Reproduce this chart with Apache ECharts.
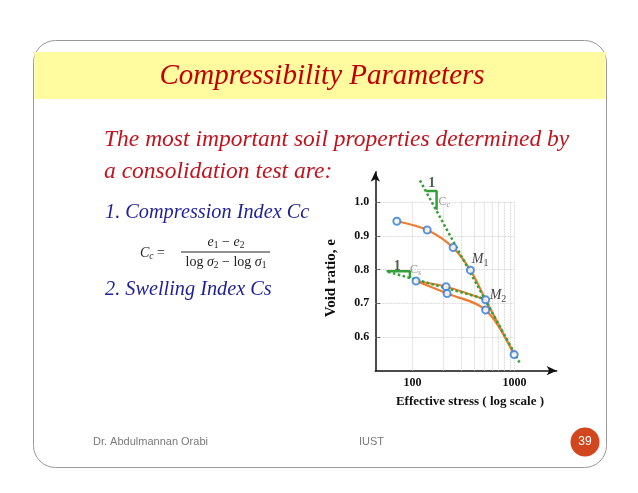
<!DOCTYPE html>
<html>
<head>
<meta charset="utf-8">
<script src="https://cdn.jsdelivr.net/npm/echarts@6/dist/echarts.min.js"></script>
<style>
  html, body { margin: 0; padding: 0; background: #ffffff; }
  #chart { width: 638px; height: 493px; }
</style>
</head>
<body>
<div id="chart"></div>
<script>
// ---------------- data ----------------
const X_MIN = 43, X_MAX = 2600;        // effective stress axis extent (log)
const Y_MIN = 0.5, Y_MAX = 1.09;       // void ratio axis extent
const xTickValues = [100, 1000];
const yTickValues = [0.6, 0.7, 0.8, 0.9, 1.0];
const gridStress = [100, 200, 300, 400, 500, 600, 700, 800, 900, 1000];
const gridVoid = [0.6, 0.7, 0.8, 0.9, 1.0];

// virgin loading curve
const loadStress = [70, 139, 250, 369, 522, 993];
const loadVoid   = [0.943, 0.917, 0.865, 0.798, 0.710, 0.548];
// unloading branch of the loop
const unloadStress = [522, 213, 108];
const unloadVoid   = [0.710, 0.749, 0.766];
// reloading branch
const reloadStress = [108, 218, 522, 993];
const reloadVoid   = [0.766, 0.729, 0.680, 0.548];
// measured points
const pointStress = [70, 139, 250, 369, 522, 522, 993, 108, 213, 218];
const pointVoid   = [0.943, 0.917, 0.865, 0.798, 0.710, 0.680, 0.548, 0.766, 0.749, 0.729];
// tangent lines
const ccLineStress = [118, 1137];
const ccLineVoid   = [1.064, 0.521];
const csLineStress = [57.5, 496];
const csLineVoid   = [0.793, 0.714];
// slope triangles
const ccTriStress = [135, 172, 172];
const ccTriVoid   = [1.033, 1.033, 0.977];
const csTriStress = [55.5, 94, 94];
const csTriVoid   = [0.795, 0.795, 0.774];
// annotations
const annoText   = ['one', 'cc', 'one', 'cs', 'm1', 'm2'];
const annoStress = [154, 205, 70.5, 107, 460, 690];
const annoVoid   = [1.055, 1.0, 0.809, 0.798, 0.830, 0.724];

// ---------------- helpers ----------------
const zip = (a, b) => a.map((v, i) => [v, b[i]]);
const gridLinesData = []
  .concat(gridStress.map(s => ({ coords: [[s, Y_MIN], [s, 1.0]] })))
  .concat(gridVoid.map(v => ({ coords: [[X_MIN, v], [1000, v]] })));

const ORANGE = '#ED7D31';
const GREEN = '#35A03A';
const BLUE = '#2F7BDB';
const SERIF = '"Liberation Serif", "DejaVu Serif", serif';

const annoFormat = {
  one: '{one|1}',
  cc: '{c|C}{cs|c}',
  cs: '{c|C}{cs|s}',
  m1: '{m|M}{ms|1}',
  m2: '{m|M}{ms|2}'
};

const mathRich = {
  i: { font: 'italic 14px ' + SERIF, fill: '#222', verticalAlign: 'middle' },
  s: { font: '9.5px ' + SERIF, fill: '#222', padding: [7, 0, 0, 0], verticalAlign: 'middle' },
  si: { font: 'italic 9.5px ' + SERIF, fill: '#222', padding: [7, 0, 0, 0], verticalAlign: 'middle' },
  o: { font: '14px ' + SERIF, fill: '#222', verticalAlign: 'middle' }
};

const chart = echarts.init(document.getElementById('chart'), null, { renderer: 'canvas' });

const option = {
  animation: false,
  backgroundColor: '#ffffff',
  graphic: [
    { type: 'rect', z: -10, shape: { x: 33.5, y: 40.5, width: 573, height: 427, r: 22 },
      style: { fill: '#ffffff', stroke: '#9a9a9a', lineWidth: 1 } },
    { type: 'rect', z: -9, shape: { x: 34.5, y: 52, width: 571, height: 47 },
      style: { fill: '#FFFB9E' } },
    { type: 'text', z: -8, style: { x: 322, y: 76, text: 'Compressibility Parameters',
      font: 'italic 29px ' + SERIF, fill: '#C00000', align: 'center', verticalAlign: 'middle' } },
    { type: 'text', z: -8, style: { x: 104, y: 140, text: 'The most important soil properties determined by',
      font: 'italic 23.5px ' + SERIF, fill: '#C0141E', align: 'left', verticalAlign: 'middle' } },
    { type: 'text', z: -8, style: { x: 104, y: 172, text: 'a consolidation test are:',
      font: 'italic 23.5px ' + SERIF, fill: '#C0141E', align: 'left', verticalAlign: 'middle' } },
    { type: 'text', z: -8, style: { x: 105, y: 213, text: '1. Compression Index Cc',
      font: 'italic 20.3px ' + SERIF, fill: '#1F1F96', align: 'left', verticalAlign: 'middle' } },
    { type: 'text', z: -8, style: { x: 105, y: 290, text: '2. Swelling Index Cs',
      font: 'italic 20.3px ' + SERIF, fill: '#1F1F96', align: 'left', verticalAlign: 'middle' } },
    // formula
    { type: 'text', z: -8, style: { x: 140, y: 253, text: '{i|C}{si|c}{o| =}',
      align: 'left', verticalAlign: 'middle', rich: mathRich } },
    { type: 'text', z: -8, style: { x: 226, y: 242, text: '{i|e}{s|1}{o| − }{i|e}{s|2}',
      align: 'center', verticalAlign: 'middle', rich: mathRich } },
    { type: 'line', z: -8, shape: { x1: 181, y1: 252, x2: 270, y2: 252 },
      style: { stroke: '#222', lineWidth: 1 } },
    { type: 'text', z: -8, style: { x: 226, y: 262, text: '{o|log }{i|σ}{s|2}{o| − log }{i|σ}{s|1}',
      align: 'center', verticalAlign: 'middle', rich: mathRich } },
    // footer
    { type: 'text', z: -8, style: { x: 93, y: 442, text: 'Dr. Abdulmannan Orabi',
      font: '11px "Liberation Sans", Arial, sans-serif', fill: '#7a7a7a', align: 'left', verticalAlign: 'middle' } },
    { type: 'text', z: -8, style: { x: 359, y: 442, text: 'IUST',
      font: '11px "Liberation Sans", Arial, sans-serif', fill: '#7a7a7a', align: 'left', verticalAlign: 'middle' } },
    { type: 'circle', z: -7, shape: { cx: 585, cy: 442, r: 14.5 }, style: { fill: '#D2461E' } },
    { type: 'text', z: -6, style: { x: 585, y: 442, text: '39',
      font: '12px "Liberation Sans", Arial, sans-serif', fill: '#ffffff', align: 'center', verticalAlign: 'middle' } }
  ],
  grid: { left: 375.3, right: 81.3, top: 171.7, bottom: 122.3, containLabel: false },
  xAxis: {
    type: 'log', logBase: 10, min: X_MIN, max: X_MAX,
    name: 'Effective stress ( log scale )',
    nameLocation: 'middle', nameGap: 24,
    nameTextStyle: { fontFamily: SERIF, fontWeight: 'bold', fontSize: 13, color: '#111', padding: [0, 0, 0, 8] },
    axisLine: { show: true, symbol: ['none', 'arrow'], symbolSize: [7, 10], lineStyle: { color: '#111', width: 1.5 } },
    axisTick: { show: false },
    splitLine: { show: false },
    minorSplitLine: { show: false },
    axisLabel: { show: true, customValues: xTickValues, margin: 6,
      fontFamily: SERIF, fontWeight: 'bold', fontSize: 12, color: '#111',
      formatter: v => String(Math.round(v)) }
  },
  yAxis: {
    type: 'value', min: Y_MIN, max: Y_MAX,
    name: 'Void ratio, e',
    nameLocation: 'middle', nameGap: 37, nameRotate: 90,
    nameTextStyle: { fontFamily: SERIF, fontWeight: 'bold', fontSize: 15, color: '#111', padding: [0, 14, 0, 0] },
    axisLine: { show: true, symbol: ['none', 'arrow'], symbolSize: [7, 10], lineStyle: { color: '#111', width: 1.5 } },
    axisTick: { show: true, inside: true, length: 5, customValues: yTickValues, lineStyle: { color: '#333' } },
    splitLine: { show: false },
    axisLabel: { show: true, customValues: yTickValues, margin: 6,
      fontFamily: SERIF, fontWeight: 'bold', fontSize: 12, color: '#111',
      formatter: v => v.toFixed(1) }
  },
  series: [
    { name: 'grid', type: 'lines', coordinateSystem: 'cartesian2d', silent: true, z: 1,
      lineStyle: { color: '#c4c4c4', width: 0.8, type: 'dotted', opacity: 1 },
      data: gridLinesData },
    { name: 'loading', type: 'line', z: 2, smooth: 0.35, symbol: 'none',
      lineStyle: { color: ORANGE, width: 2.2 }, data: zip(loadStress, loadVoid) },
    { name: 'unloading', type: 'line', z: 2, smooth: 0.35, symbol: 'none',
      lineStyle: { color: ORANGE, width: 2.2 }, data: zip(unloadStress, unloadVoid) },
    { name: 'reloading', type: 'line', z: 2, smooth: 0.35, symbol: 'none',
      lineStyle: { color: ORANGE, width: 2.2 }, data: zip(reloadStress, reloadVoid) },
    { name: 'Cc line', type: 'line', z: 3, symbol: 'none',
      lineStyle: { color: GREEN, width: 2.5, type: 'dotted' }, data: zip(ccLineStress, ccLineVoid) },
    { name: 'Cs line', type: 'line', z: 3, symbol: 'none',
      lineStyle: { color: GREEN, width: 2.5, type: 'dotted' }, data: zip(csLineStress, csLineVoid) },
    { name: 'Cc triangle', type: 'line', z: 3, symbol: 'none',
      lineStyle: { color: GREEN, width: 2.5 }, data: zip(ccTriStress, ccTriVoid) },
    { name: 'Cs triangle', type: 'line', z: 3, symbol: 'none',
      lineStyle: { color: GREEN, width: 2.5 }, data: zip(csTriStress, csTriVoid) },
    { name: 'points', type: 'scatter', z: 5, symbol: 'circle', symbolSize: 7,
      itemStyle: { color: '#ffffff', borderColor: BLUE, borderWidth: 2 },
      data: zip(pointStress, pointVoid) },
    { name: 'labels', type: 'scatter', z: 6, symbolSize: 0, silent: true,
      data: annoStress.map((s, i) => ({ value: [s, annoVoid[i]], name: annoText[i] })),
      label: { show: true, position: 'inside',
        formatter: p => annoFormat[p.name],
        rich: {
          one: { fontFamily: SERIF, fontWeight: 'bold', fontSize: 14, color: '#1f3a1f' },
          c: { fontFamily: SERIF, fontSize: 12, color: '#777' },
          cs: { fontFamily: SERIF, fontStyle: 'italic', fontSize: 8, color: '#777', padding: [6, 0, 0, 0] },
          m: { fontFamily: SERIF, fontStyle: 'italic', fontSize: 14, color: '#111' },
          ms: { fontFamily: SERIF, fontSize: 10, color: '#111', padding: [8, 0, 0, 0] }
        } } }
  ]
};
chart.setOption(option);
</script>
</body>
</html>
